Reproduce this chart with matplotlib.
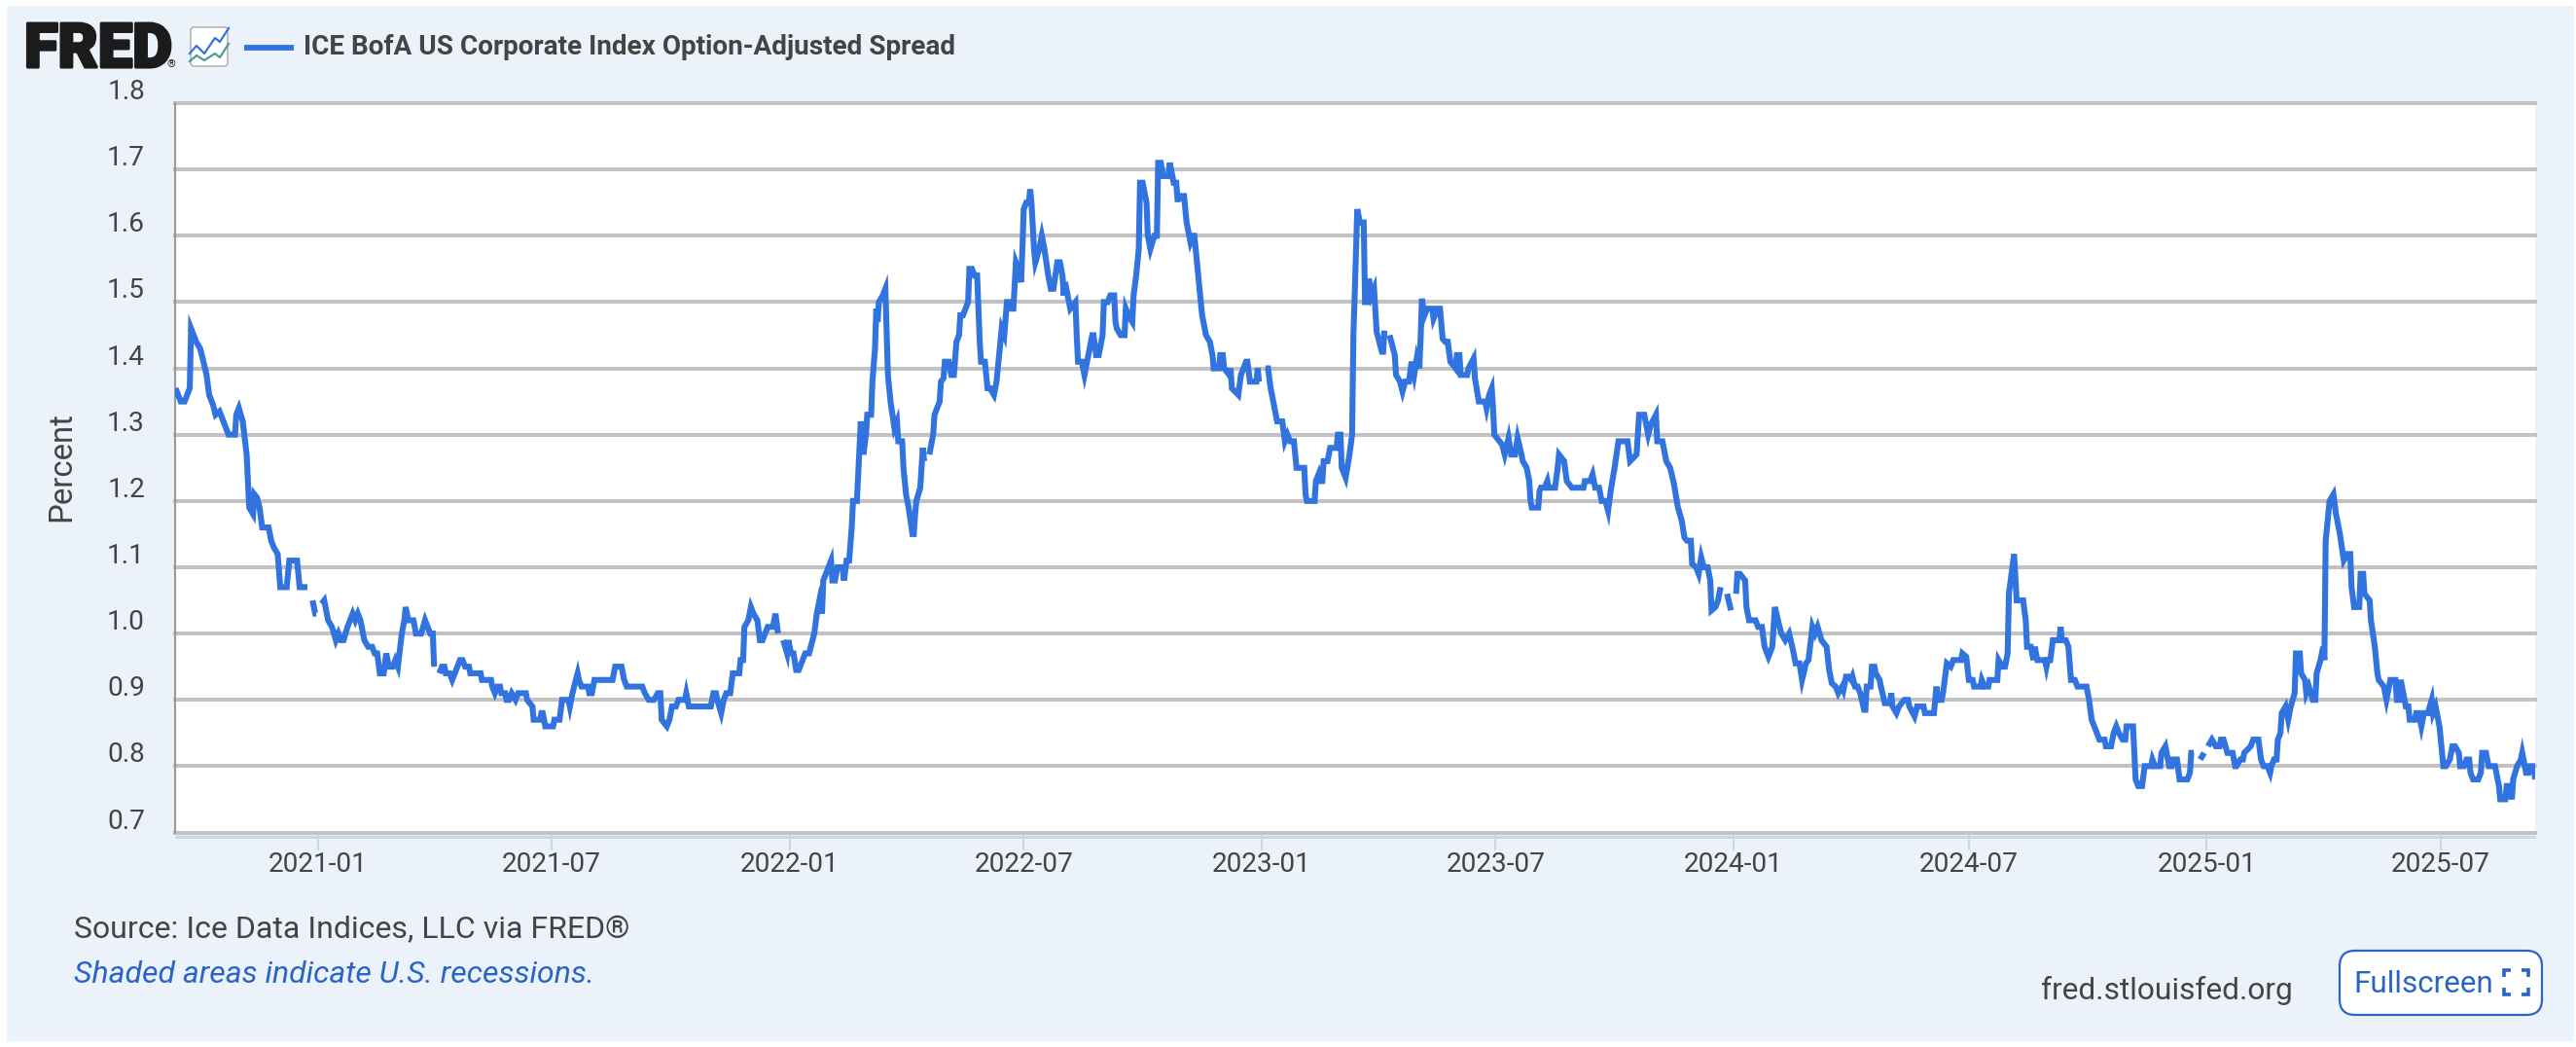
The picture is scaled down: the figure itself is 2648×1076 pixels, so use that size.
import numpy as np
import pandas as pd
import matplotlib
matplotlib.use('Agg')
import matplotlib.pyplot as plt
import matplotlib.patheffects as pe
from matplotlib.patches import FancyBboxPatch, Rectangle
from matplotlib.transforms import ScaledTranslation

plt.rcParams['font.family'] = ['Roboto', 'DejaVu Sans']

nan = float('nan')

# (days since 2021-01-01, percent), nan marks a missing day
y2020 = [(-110,1.37),(-108,1.36),(-106,1.35),(-103,1.35),(-101,1.36),(-99,1.37),(-98,1.46),(-94,1.44),(-91,1.43),(-89,1.415),
         (-86,1.39),(-84,1.36),(-81,1.345),(-79,1.33),(-76,1.335),(-73,1.32),(-71,1.31),(-69,1.30),(-64,1.30),(-63,1.33),
         (-61,1.34),(-58,1.32),(-55,1.27),(-53,1.19),(-50,1.18),(-49,1.21),(-47,1.205),(-45,1.19),(-43,1.16),(-38,1.16),
         (-36,1.14),(-34,1.13),(-31,1.12),(-29,1.07),(-24,1.07),(-22,1.11),(-16,1.11),(-14,1.07),(-8,1.07),(-7,nan),
         (-4,1.05),(-2,1.03),(-1,1.03),(0,nan)]
y2021 = [(3,1.045),(5,1.05),(8,1.02),(11,1.01),(14,.99),(16,1.00),(18,.99),(20,.99),(23,1.01),(25,1.02),
         (27,1.03),(29,1.02),(31,1.03),(33,1.02),(36,.99),(39,.98),(42,.98),(44,.97),(46,.97),(48,.94),
         (51,.94),(53,.97),(55,.95),(58,.95),(60,.96),(62,.95),(65,1.00),(67,1.02),(68,1.04),(70,1.02),
         (74,1.02),(76,1.00),(80,1.00),(83,1.02),(87,1.00),(89,1.00),(90,.95),(91,nan),(94,.94),(96,.95),
         (98,.95),(99,.94),(102,.94),(104,.93),(106,.94),(108,.95),(110,.96),(112,.96),(114,.95),(117,.95),
         (118,.94),(126,.94),(127,.93),(134,.93),(135,.92),(137,.91),(139,.92),(141,.92),(142,.91),(145,.91),
         (146,.90),(148,.90),(150,.91),(153,.90),(155,.91),(161,.91),(162,.90),(166,.89),(167,.87),(172,.87),
         (173,.88),(174,.88),(176,.86),(182,.86),(183,.87),(187,.87),(189,.90),(194,.90),(195,.89),(197,.91),
         (201,.94),(202,.93),(204,.92),(209,.92),(210,.91),(212,.91),(214,.93),(228,.93),(230,.95),(235,.95),
         (237,.93),(239,.92),(251,.92),(253,.91),(256,.90),(260,.90),(263,.91),(265,.91),(266,.87),(270,.86),
         (272,.87),(274,.89),(277,.89),(279,.90),(284,.90),(285,.91),(287,.89),(304,.89),(306,.91),(308,.91),
         (309,.90),(312,.88),(314,.90),(316,.91),(319,.91),(321,.94),(326,.94),(327,.96),(329,.96),(330,1.01),
         (333,1.02),(335,1.04),(337,1.03),(340,1.02),(342,.99),(344,.99),(346,1.00),(348,1.01),(352,1.01),(354,1.03),
         (356,1.00),(357,nan),(360,.99),(363,.97),(364,.99)]
y2022 = [(366,.97),(368,.97),(370,.945),(372,.945),(375,.96),(377,.97),(380,.97),(384,1.00),(386,1.03),(388,1.05),
         (390,1.03),(391,1.08),(393,1.09),(397,1.11),(398,1.08),(400,1.08),(402,1.10),(406,1.10),(407,1.08),(409,1.11),
         (411,1.11),(413,1.16),(414,1.20),(417,1.20),(418,1.24),
         (420,1.32),(422,1.27),(424,1.30),(425,1.33),(428,1.33),(429,1.38),(431,1.43),(432,1.49),(433,1.47),(434,1.50),
         (437,1.51),(439,1.52),(441,1.39),(443,1.35),(446,1.31),(448,1.32),(449,1.29),(452,1.29),(453,1.25),(455,1.21),
         (457,1.19),(460,1.15),(461,1.15),(462,1.18),(463,1.20),(466,1.22),(468,1.28),(469,1.26),(470,nan),(473,1.27),
         (476,1.30),(477,1.33),(481,1.35),(482,1.38),(484,1.385),(485,1.41),(488,1.41),(490,1.39),(492,1.39),(494,1.44),
         (496,1.45),(497,1.48),(499,1.48),(501,1.49),(503,1.50),(504,1.55),(506,1.55),(508,1.54),(510,1.54),(512,1.44),
         (513,1.41),(516,1.41),(518,1.37),(520,1.37),(523,1.36),(525,1.38),(528,1.44),(529,1.46),(531,1.45),(533,1.50),
         (536,1.50),(537,1.49),(538,1.49),(540,1.56),(541,1.555),(544,1.53),(545,1.58),(546,1.64),(548,1.65),(550,1.65),
         (551,1.67),(552,1.65),(554,1.58),(555,1.56),(558,1.58),(560,1.60),(562,1.58),(565,1.54),(567,1.52),(569,1.52),
         (572,1.56),(574,1.56),(576,1.54),(577,1.51),(578,1.53),(581,1.50),(582,1.49),(586,1.50),(587,1.45),(588,1.41),
         (591,1.41),(593,1.39),(595,1.41),(597,1.43),(599,1.45),(600,1.45),(602,1.42),(604,1.42),(607,1.45),(608,1.50),
         (611,1.50),(613,1.51),(616,1.51),(617,1.47),(618,1.46),(621,1.45),(624,1.45),(625,1.49),(627,1.48),(630,1.47),
         (631,1.51),(633,1.54),(635,1.58),(636,1.68),(638,1.68),(641,1.65),(642,1.60),(644,1.58),(647,1.60),(649,1.60),
         (650,1.71),(652,1.71),(654,1.69),(658,1.69),(659,1.71),(660,1.70),(662,1.68),(664,1.68),(665,1.655),(666,1.655),
         (668,1.66),(670,1.66),(672,1.62),(673,1.61),(675,1.59),(677,1.60),(678,1.60),(679,1.58),(681,1.54),(684,1.48),
         (686,1.46),(687,1.45),(690,1.44),(692,1.42),(693,1.40),(697,1.40),(698,1.42),(700,1.42),(701,1.40),(705,1.39),
         (706,1.40),(707,1.37),(712,1.36),(714,1.39),(718,1.41),(719,1.41),(721,1.38),(726,1.38),(727,1.40),(728,1.38)]
y2023 = [(731,nan),(733,1.40),(735,1.40),(737,1.37),(739,1.35),(742,1.32),(746,1.32),(748,1.29),(750,1.30),(752,1.29),
         (755,1.29),(757,1.25),(763,1.25),(764,1.21),(765,1.20),(771,1.20),(772,1.23),(774,1.24),(775,1.23),(777,1.23),
         (778,1.26),(781,1.26),(783,1.28),(788,1.28),(789,1.30),(791,1.30),(792,1.25),(795,1.235),(798,1.27),(800,1.30),
         (801,1.45),(802,1.51),(804,1.64),(806,1.62),(809,1.62),(810,1.50),(812,1.50),(813,1.535),(815,1.51),(817,1.52),
         (819,1.455),(821,1.44),(823,1.425),(824,1.425),(825,1.457),(826,nan),(829,1.45),(833,1.42),(834,1.39),(837,1.38),
         (839,1.365),(841,1.38),(844,1.38),(846,1.41),(848,1.39),(850,1.415),(852,1.40),(853,1.445),(854,1.505),(856,1.48),
         (858,1.49),(862,1.49),(863,1.475),(866,1.49),(868,1.49),(870,1.445),(872,1.44),(874,1.44),(876,1.41),(880,1.40),
         (881,1.42),(883,1.42),(884,1.39),(889,1.39),(890,1.40),(894,1.415),(895,1.385),(898,1.35),(903,1.35),(904,1.34),
         (906,1.36),(908,1.37),(909,1.34),(910,1.30),(912,1.295),(916,1.285),(918,1.27),(921,1.295),(923,1.27),(926,1.27),
         (928,1.295),(931,1.27),(932,1.26),(935,1.25),(937,1.23),(938,1.20),(939,1.19),(944,1.19),(945,1.215),(946,1.22),
         (949,1.22),(951,1.23),(952,1.22),(957,1.22),(959,1.25),(960,1.27),(964,1.26),(966,1.23),(968,1.225),(970,1.22),
         (979,1.22),(980,1.23),(984,1.23),(986,1.24),(988,1.22),(991,1.22),(993,1.20),(996,1.20),(998,1.185),(1000,1.215),
         (1003,1.25),(1006,1.29),(1013,1.29),(1015,1.26),(1020,1.27),(1022,1.33),(1026,1.33),(1029,1.30),(1031,1.315),(1035,1.33),
         (1036,1.29),(1040,1.29),(1043,1.26),(1046,1.25),(1049,1.225),(1052,1.19),(1055,1.17),(1057,1.145),(1059,1.14),(1062,1.14),
         (1063,1.105),(1066,1.10),(1068,1.09),(1070,1.115),(1072,1.10),(1075,1.10),(1077,1.08),(1078,1.035),(1081,1.04),(1083,1.05),
         (1085,1.07),(1088,nan),(1090,1.06),(1093,1.035)]
y2024 = [(1095,nan),(1097,1.06),(1098,1.09),(1100,1.09),(1104,1.08),(1105,1.04),(1107,1.02),(1112,1.02),(1114,1.01),(1117,1.01),
         (1119,.98),(1122,.965),(1125,.98),(1127,1.04),(1130,1.015),(1132,1.00),(1135,.99),(1138,1.00),(1141,.975),(1143,.955),
         (1146,.955),(1148,.93),(1151,.955),(1153,.96),(1156,1.01),(1158,1.00),(1160,1.01),(1163,.99),(1167,.98),(1169,.945),
         (1171,.925),(1174,.92),(1176,.91),(1179,.92),(1180,.915),(1182,.935),(1184,.935),(1186,.93),(1187,.935),(1189,.92),
         (1191,.92),(1193,.91),(1196,.885),(1197,.885),(1198,.92),(1201,.92),(1202,.95),(1204,.95),(1205,.94),(1208,.93),
         (1209,.92),(1212,.895),(1216,.895),(1217,.91),(1218,.89),(1221,.88),(1223,.89),(1227,.90),(1230,.90),(1231,.89),
         (1235,.875),(1237,.89),(1242,.89),(1243,.88),(1250,.88),(1252,.92),(1253,.90),(1256,.90),(1257,.91),(1260,.955),
         (1263,.95),(1265,.96),(1271,.96),(1272,.97),(1275,.965),(1277,.93),(1280,.93),(1281,.92),(1286,.92),(1287,.93),
         (1289,.92),(1292,.92),(1293,.93),(1299,.93),(1300,.96),(1303,.95),(1305,.95),(1307,.97),(1308,1.06),(1312,1.12),
         (1314,1.05),(1315,1.05),(1319,1.05),(1321,1.02),(1322,.98),(1325,.98),(1327,.96),(1328,.98),(1329,.97),(1330,.96),
         (1336,.96),(1337,.95),(1338,.96),(1340,.96),(1342,.99),(1347,.99),(1348,1.01),(1349,.99),(1352,.99),(1354,.98),
         (1356,.93),(1359,.93),(1361,.92),(1368,.92),(1370,.90),(1372,.87),(1374,.86),(1376,.85),(1378,.84),(1382,.84),
         (1383,.83),(1387,.83),(1389,.85),(1391,.86),(1393,.85),(1396,.84),(1398,.84),(1399,.86),(1404,.86),(1405,.82),
         (1406,.78),(1408,.77),(1411,.77),(1413,.80),(1418,.80),(1419,.81),(1421,.80),(1425,.80),(1426,.82),(1429,.83),
         (1432,.80),(1434,.80),(1435,.81),(1438,.81),(1440,.78),(1441,.78),(1446,.78),(1448,.79),(1449,.82),(1451,.82),
         (1454,nan),(1456,.81),(1459,.82),(1461,nan)]
y2025 = [(1462,.83),(1465,.84),(1468,.83),(1471,.83),(1472,.84),(1474,.84),(1477,.82),(1481,.82),(1483,.80),(1484,.80),
         (1487,.81),(1489,.81),(1490,.82),(1495,.83),(1497,.84),(1501,.84),(1503,.81),(1505,.80),(1508,.80),(1510,.79),
         (1511,.80),(1513,.81),(1515,.81),(1516,.84),(1518,.85),(1519,.88),(1522,.89),(1524,.87),(1526,.89),(1529,.91),
         (1530,.97),(1533,.97),(1534,.94),(1537,.93),(1538,.91),(1540,.92),(1543,.90),(1545,.90),(1546,.94),(1549,.96),
         (1551,.98),(1552,.96),(1553,1.14),(1556,1.20),(1559,1.21),(1561,1.18),(1564,1.15),(1567,1.11),(1570,1.12),(1572,1.12),
         (1573,1.07),(1575,1.04),(1579,1.04),(1580,1.09),(1582,1.09),(1583,1.06),(1587,1.05),(1588,1.02),(1591,.98),(1593,.94),
         (1594,.93),(1598,.92),(1600,.90),(1603,.93),(1607,.93),(1608,.90),(1610,.90),(1611,.93),(1613,.91),(1615,.89),
         (1617,.89),(1618,.87),(1622,.87),(1623,.88),(1625,.88),(1627,.86),(1629,.88),(1632,.88),(1635,.90),(1636,.88),
         (1638,.89),(1641,.86),(1642,.84),(1644,.80),(1646,.80),(1649,.81),(1651,.83),(1653,.83),(1656,.82),(1657,.80),
         (1660,.80),(1662,.81),(1664,.81),(1665,.79),(1667,.78),(1671,.78),(1673,.79),(1674,.82),(1677,.82),(1679,.80),
         (1684,.80),(1687,.77),(1688,.75),(1692,.75),(1693,.77),(1695,.77),(1697,.75),(1698,.78),(1701,.80),(1704,.81),
         (1705,.82),(1708,.79),(1710,.79),(1711,.80),(1714,.80),(1715,.78)]

y_ticks = [0.7, 0.8, 0.9, 1.0, 1.1, 1.2, 1.3, 1.4, 1.5, 1.6, 1.7, 1.8]
x_ticks = ['2021-01', '2021-07', '2022-01', '2022-07', '2023-01', '2023-07',
           '2024-01', '2024-07', '2025-01', '2025-07']

W, H = 2648, 1076
BLUE = '#3274DF'
LINK = '#2A65C4'
TEXT = '#444444'
PANEL = '#EBF2FA'

base = pd.Timestamp('2021-01-01')
df = pd.DataFrame(y2020 + y2021 + y2022 + y2023 + y2024 + y2025, columns=['day', 'spread'])
df['date'] = base + pd.to_timedelta(df['day'], unit='D')

fig = plt.figure(figsize=(W / 100, H / 100), dpi=100, facecolor='white')

# page layer in pixel coords, for the panel and the FRED furniture
page = fig.add_axes([0, 0, 1, 1], zorder=0)
page.set_xlim(0, W)
page.set_ylim(H, 0)
page.axis('off')
page.add_patch(Rectangle((7, 6), W - 7 - 2, 1064, color=PANEL, lw=0))

# plot area
L, R, T, B = 179.5, 2606, 106, 855.5
ax = fig.add_axes([L / W, 1 - B / H, (R - L) / W, (B - T) / H], zorder=1)
ax.plot(df['date'], df['spread'], color=BLUE, lw=4.4, solid_joinstyle='miter', solid_capstyle='butt', zorder=3)
ax.set_xlim(base - pd.Timedelta(days=110.7), base + pd.Timedelta(days=1715))
ax.set_ylim(0.7, 1.8)

ax.set_yticks(y_ticks)
ax.set_yticklabels(['%.1f' % v for v in y_ticks], fontsize=20.2, color=TEXT, va='baseline')
ax.tick_params(axis='y', length=0, pad=22)
up = ScaledTranslation(0, 4 / 100, fig.dpi_scale_trans)
for lab in ax.get_yticklabels():
    lab.set_transform(lab.get_transform() + up)

ax.set_xticks([pd.Timestamp(t + '-01') for t in x_ticks])
ax.set_xticklabels(x_ticks, fontsize=20.2, color=TEXT)
ax.tick_params(axis='x', length=13, width=1.4, color='#CCD6EB', pad=1)

ax.grid(axis='y', color='#C2C2C2', lw=2.9, zorder=1)
ax.set_axisbelow(True)
for g in ax.get_ygridlines():
    g.set_clip_on(False)
for s in ['top', 'right']:
    ax.spines[s].set_visible(False)
ax.spines['left'].set_color('#999999')
ax.spines['left'].set_linewidth(1.5)
ax.spines['bottom'].set_visible(False)
page.plot([L, R], [B + 4, B + 4], color='#CCD6EB', lw=2.2, solid_capstyle='butt')

page.text(72, 480, 'Percent', fontsize=23.7, color=TEXT, rotation=90, ha='center', va='baseline', rotation_mode='anchor')

# logo, chart icon and legend
page.text(25, 69, 'FRED', fontsize=45.5, fontweight='black', color='#1B1B1B', ha='left', va='baseline',
          path_effects=[pe.withStroke(linewidth=2.2, foreground='#1B1B1B')])
page.text(172, 69, '®', fontsize=8, color='#1B1B1B', ha='left', va='baseline')
page.add_patch(FancyBboxPatch((196, 28), 38, 40, boxstyle='round,pad=0,rounding_size=3', fc='white', ec='#AAAAAA', lw=1))
page.plot([195, 202, 210, 221, 226, 235], [55, 47, 55, 39, 43, 29], color=BLUE, lw=1.6)
page.plot([195, 202, 210, 221, 226, 235], [63, 57, 62, 55, 59, 45], color='#4E9C94', lw=1.6)
page.plot([251, 302], [49, 49], color=BLUE, lw=4.2, solid_capstyle='butt')
page.text(312, 56, 'ICE BofA US Corporate Index Option-Adjusted Spread', fontsize=20.1, fontweight='bold',
          color='#444444', ha='left', va='baseline')

# footer
page.text(76, 964, 'Source: Ice Data Indices, LLC via FRED®', fontsize=23, color=TEXT, ha='left', va='baseline')
page.text(76, 1010, 'Shaded areas indicate U.S. recessions.', fontsize=23, style='italic', color=LINK, ha='left', va='baseline')
page.text(2098, 1027, 'fred.stlouisfed.org', fontsize=22.8, color=TEXT, ha='left', va='baseline')

page.add_patch(FancyBboxPatch((2405, 977), 208, 66, boxstyle='round,pad=0,rounding_size=16', fc='white', ec=LINK, lw=1.6))
page.text(2419, 1020, 'Fullscreen', fontsize=22.6, color=LINK, ha='left', va='baseline')
for cx, cy, dx, dy in [(2574, 997, 1, 1), (2599, 997, -1, 1), (2574, 1022, 1, -1), (2599, 1022, -1, -1)]:
    page.plot([cx, cx, cx + 7 * dx], [cy + 7 * dy, cy, cy], color=LINK, lw=2.6, solid_joinstyle='miter', solid_capstyle='butt')
page.set_xlim(0, W)
page.set_ylim(H, 0)

fig.savefig('out.png', dpi=100, facecolor='white')
